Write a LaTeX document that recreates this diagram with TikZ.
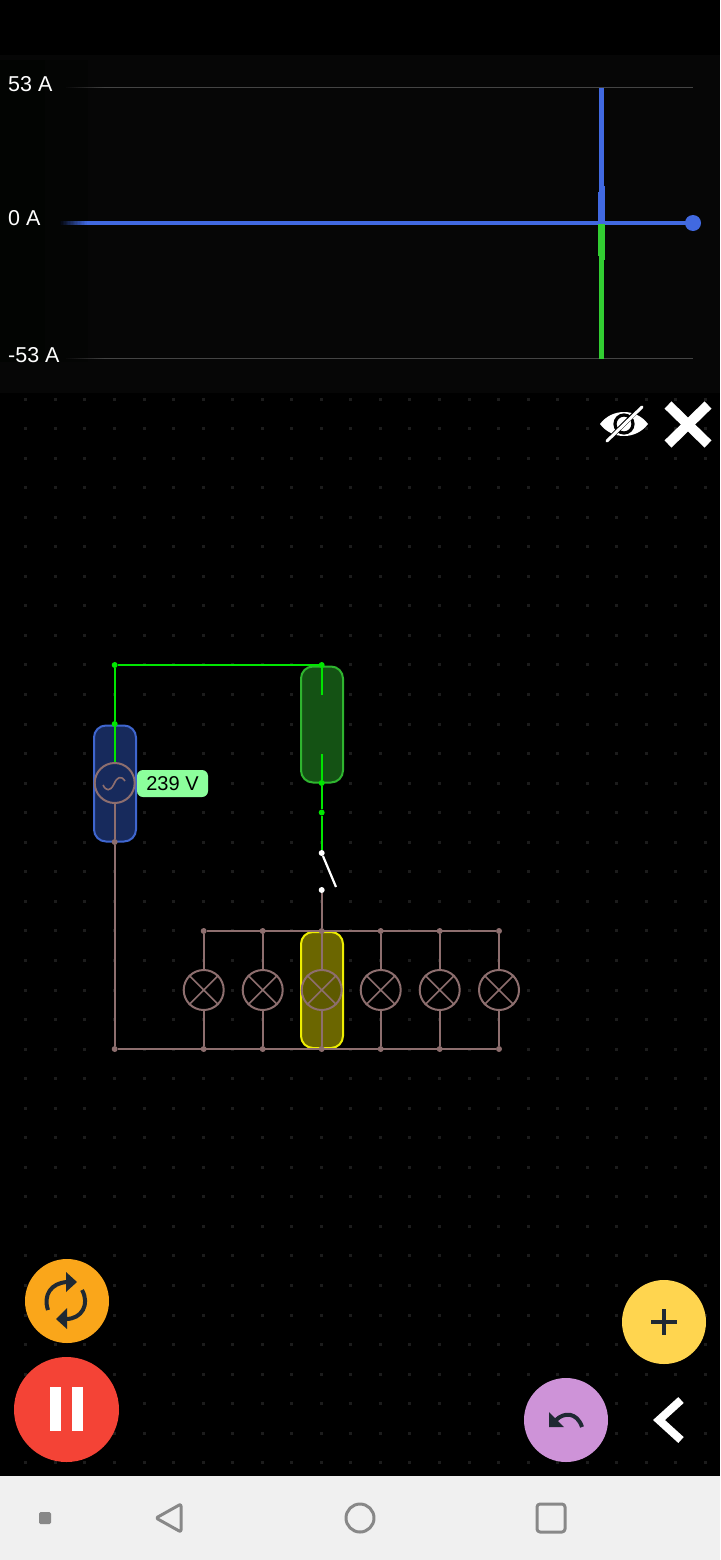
\documentclass[tikz,border=0pt]{standalone}
\usepackage{fontspec}
\setmainfont{Liberation Sans}
\definecolor{panel}{HTML}{060606}
\definecolor{panelleft}{HTML}{020402}
\definecolor{panelmid}{HTML}{040504}
\definecolor{griddot}{HTML}{1C1C1C}
\definecolor{gridline}{HTML}{444444}
\definecolor{tracea}{HTML}{4169E1}
\definecolor{traceb}{HTML}{32CD32}
\definecolor{wiregreen}{HTML}{00E600}
\definecolor{wirebrown}{HTML}{8D6E6E}
\definecolor{icondark}{HTML}{1F2933}
\definecolor{navgray}{HTML}{888888}
\definecolor{navbg}{HTML}{F0F0F0}
\definecolor{srcfill}{HTML}{172A5C}
\definecolor{srcdraw}{HTML}{3F66CF}
\definecolor{indfill}{HTML}{145214}
\definecolor{inddraw}{HTML}{2FB52F}
\definecolor{selfill}{HTML}{6B6600}
\definecolor{seldraw}{HTML}{EEEE00}
\definecolor{selinner}{HTML}{5E5A00}
\definecolor{labelfill}{HTML}{8CFF9C}
\definecolor{btnorange}{HTML}{FAA61A}
\definecolor{btnred}{HTML}{F44336}
\definecolor{btnyellow}{HTML}{FFD54F}
\definecolor{btnpurple}{HTML}{CE93D8}
\tikzset{
  greenwire/.style={draw=wiregreen,line width=2.4pt},
  brownwire/.style={draw=wirebrown,line width=2.4pt},
  crossline/.style={draw=wirebrown,line width=1.6pt},
  jg/.style={circle,fill=wiregreen,inner sep=0pt,minimum size=6pt},
  jb/.style={circle,fill=wirebrown,inner sep=0pt,minimum size=6pt},
  jw/.style={circle,fill=white,inner sep=0pt,minimum size=6pt},
  lamp/.style={circle,draw=wirebrown,line width=2pt,inner sep=0pt,minimum size=40pt},
  compbox/.style={rounded corners=12pt,line width=2pt,inner sep=0pt,minimum width=42pt,minimum height=116pt},
  axislabel/.style={anchor=west,inner sep=0pt,text=white,font=\fontsize{21.5}{24}\selectfont},
  fab/.style={circle,inner sep=0pt},
  navicon/.style={draw=navgray,line width=3pt,line join=round}
}
\begin{document}
\begin{tikzpicture}[x=1pt,y=-1pt]
\useasboundingbox (0,0) rectangle (720,1560);
\fill[black] (0,0) rectangle (720,1560);
% dotted grid
\foreach \i in {0,...,23}{\foreach \j in {0,...,36}{
  \fill[griddot] ({25.8+29.55*\i-1.5},{399+29.55*\j-1.5}) rectangle ++(3,3);
}}
% scope panel
\fill[panel] (0,55) rectangle (720,393);
\fill[panelleft] (0,60) rectangle (45,362);
\fill[panelmid] (45,60) rectangle (88,362);
% grid lines and traces (fade in from the left)
\foreach \k in {0,...,19}{
  \pgfmathsetmacro{\p}{5*(\k+1)}
  \fill[gridline!\p!panel] ({66+2*\k},87) rectangle ++(2.2,1);
  \fill[gridline!\p!panel] ({66+2*\k},358) rectangle ++(2.2,1);
  \fill[tracea!\p!black] ({60+1.4*\k},221) rectangle ++(1.6,4);
}
\fill[gridline] (106,87) rectangle (693,88);
\fill[gridline] (106,358) rectangle (693,359);
\fill[tracea] (88,221) rectangle (693,225);
\fill[tracea] (599,88) rectangle (604,223);
\fill[tracea] (598,192) rectangle (605,223);
\fill[tracea] (599,186) rectangle (605,192);
\fill[traceb] (599,224) rectangle (604,359);
\fill[traceb] (598,224) rectangle (605,256);
\fill[traceb] (599,256) rectangle (605,260);
\fill[tracea] (693,223) circle (8);
\node[axislabel] (l53) at (8,84) {53 A};
\node[axislabel] (l0) at (8,218) {0 A};
\node[axislabel] (lm53) at (8,355) {-53 A};
% eye icon
\fill[white] (600,424) .. controls (612,408) and (636,408) .. (648,424) .. controls (636,440) and (612,440) .. (600,424);
\draw[black,line width=3.2pt] (624,424) circle (9);
\draw[black,line width=4.5pt] (613,435) -- (635,413);
\draw[white,line width=3pt,line cap=round] (607,441) -- (642,407);
% close icon
\draw[white,line width=10pt] (668,405) -- (708,444);
\draw[white,line width=10pt] (708,405) -- (668,444);
% component boxes
\node[compbox,draw=srcdraw,fill=srcfill] (src) at (115,783.5) {};
\node[compbox,draw=inddraw,fill=indfill] (ind) at (322,724.5) {};
\node[compbox,draw=seldraw,fill=selfill] (sel) at (322,990) {};
% junctions
\node[jg] (ja) at (114.7,665) {};
\node[jg] (jb) at (114.7,724) {};
\node[jg] (jc) at (321.7,665) {};
\coordinate (ic1) at (321.7,695);
\coordinate (ic2) at (321.7,754);
\node[jg] (jd) at (321.7,783) {};
\node[jg] (je) at (321.7,812.5) {};
\node[jw] (sw1) at (321.7,853) {};
\node[jw] (sw2) at (321.7,890) {};
\coordinate (swend) at (336,887);
\node[jb] (jf) at (114.7,842) {};
\node[jb] (jg1) at (114.7,1049) {};
% source
\node[lamp] (vs) at (114.7,783) {};
\draw[crossline] (103,785) .. controls (106,791) and (110,792) .. (114,784) .. controls (117,777) and (121,775) .. (125,781);
\node[inner sep=0pt,fill=labelfill,rounded corners=6pt,minimum width=71pt,minimum height=27pt,font=\fontsize{20}{24}\selectfont,text=black] (vlabel) at (172.5,783.5) {239 V};
% wires
\draw[greenwire] (ja) -- (jc);
\draw[greenwire] (ja) -- (jb);
\draw[greenwire] (jb) -- (vs.north);
\draw[greenwire] (jc) -- (ic1);
\draw[greenwire] (ic2) -- (jd);
\draw[greenwire] (jd) -- (je);
\draw[greenwire] (je) -- (sw1);
\draw[white,line width=2.2pt] (sw1) -- (swend);
\draw[brownwire] (vs.south) -- (jf);
\draw[brownwire] (jf) -- (jg1);
% lamps
\foreach \n/\x in {1/203.7,2/262.7,3/321.7,4/380.7,5/439.7,6/499}{
  \node[jb] (t\n) at (\x,931) {};
  \node[jb] (b\n) at (\x,1049) {};
  \ifnum\n=3
    \node[lamp,fill=selinner] (L\n) at (\x,990) {};
  \else
    \node[lamp] (L\n) at (\x,990) {};
  \fi
  \draw[crossline] (L\n.45) -- (L\n.225);
  \draw[crossline] (L\n.135) -- (L\n.315);
  \draw[brownwire] (t\n) -- (L\n.north);
  \draw[brownwire] (L\n.south) -- (b\n);
}
\draw[brownwire] (t1) -- (t6);
\draw[brownwire] (jg1) -- (b6);
\draw[brownwire] (sw2) -- (t3);
% floating buttons
\node[fab,fill=btnorange,minimum size=84pt] (refresh) at (67,1301) {};
\node[fab,fill=btnred,minimum size=105pt] (pause) at (66.5,1409.5) {};
\node[fab,fill=btnyellow,minimum size=84pt] (add) at (664,1322) {};
\node[fab,fill=btnpurple,minimum size=84pt] (undo) at (566,1420) {};
% refresh icon
\draw[icondark,line width=4pt] (48,1310) .. controls (43,1295) and (51,1283) .. (67,1282);
\fill[icondark] (66,1272) -- (77,1282) -- (66,1292) -- cycle;
\draw[icondark,line width=4pt] (82,1290) .. controls (90,1304) and (82,1319) .. (66,1319);
\fill[icondark] (67,1308) -- (56,1319) -- (67,1329) -- cycle;
% pause icon
\fill[white] (50,1387) rectangle (61,1431);
\fill[white] (72,1387) rectangle (83,1431);
% plus icon
\draw[icondark,line width=3.4pt] (651,1322) -- (677,1322);
\draw[icondark,line width=3.4pt] (664,1309) -- (664,1335);
% undo icon
\fill[icondark] (549,1412) -- (549,1427) -- (564,1427) -- cycle;
\draw[icondark,line width=4pt] (556,1420) .. controls (564,1412) and (577,1412) .. (582,1427);
% chevron
\draw[white,line width=8pt] (681,1400) -- (659,1420) -- (681,1440);
% nav bar
\fill[navbg] (0,1476) rectangle (720,1560);
\fill[navgray,rounded corners=1.5pt] (39,1512) rectangle (51,1524);
\draw[navicon,rounded corners=2pt] (181,1504) -- (156,1518) -- (181,1532) -- cycle;
\draw[navicon] (360,1518) circle (14);
\draw[navicon,rounded corners=3pt] (537,1504) rectangle (565,1532);
\end{tikzpicture}
\end{document}
